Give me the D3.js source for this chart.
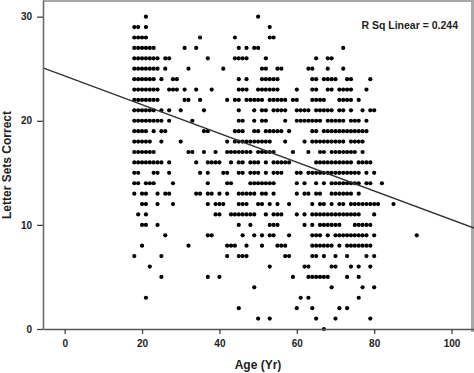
<!DOCTYPE html>
<html>
<head>
<meta charset="utf-8">
<script src="https://cdn.jsdelivr.net/npm/d3@7"></script>
<style>
  body { margin: 0; background: #fff; }
  svg { display: block; font-family: "Liberation Sans", Arial, sans-serif; }
</style>
</head>
<body>
<svg width="474" height="373"></svg>
<script>
// scores (y) and, for each score, the ages (x) that have a dot
var scores = [30, 29, 28, 27, 26, 25, 24, 23, 22, 21, 20, 19, 18, 17, 16, 15, 14, 13, 12, 11, 10, 9, 8, 7, 6, 5, 4, 3, 2, 1, 0];
var agesAtScore = [
  [21, 50],
  [18, 19, 21, 53],
  [18, 19, 20, 21, 35, 44, 53, 54],
  [18, 19, 20, 21, 22, 23, 31, 34, 45, 47, 49, 50, 72],
  [18, 19, 20, 21, 22, 23, 24, 26, 27, 37, 44, 45, 46, 47, 52, 65, 68, 69],
  [18, 19, 20, 21, 22, 23, 24, 26, 32, 41, 51, 52, 55, 56, 63, 64, 68, 72],
  [18, 19, 20, 21, 22, 23, 25, 28, 29, 45, 47, 51, 52, 53, 54, 55, 64, 65, 67, 68, 69, 70, 73, 74, 79],
  [18, 19, 20, 21, 22, 23, 24, 27, 28, 29, 31, 34, 38, 45, 46, 47, 50, 51, 52, 53, 54, 55, 60, 64, 65, 68, 69, 71, 72, 73, 74, 78],
  [18, 19, 20, 21, 22, 23, 24, 31, 32, 35, 42, 44, 45, 47, 48, 49, 50, 51, 53, 54, 55, 56, 57, 59, 60, 64, 65, 66, 67, 71, 72, 73, 74, 76],
  [18, 19, 20, 21, 22, 23, 25, 27, 30, 36, 45, 49, 51, 52, 54, 55, 56, 57, 60, 61, 62, 63, 65, 66, 67, 68, 69, 71, 72, 74, 77, 79, 80],
  [18, 19, 20, 21, 22, 23, 24, 25, 27, 33, 45, 46, 49, 51, 52, 57, 60, 61, 62, 63, 64, 65, 66, 68, 69, 70, 71, 72, 74, 75, 76, 78],
  [18, 19, 20, 21, 23, 25, 26, 36, 37, 44, 45, 46, 49, 50, 52, 53, 54, 55, 56, 58, 64, 65, 67, 68, 69, 70, 71, 72, 73, 74, 75, 76, 77, 78],
  [18, 19, 20, 21, 22, 25, 30, 42, 44, 45, 46, 47, 48, 49, 50, 51, 52, 53, 57, 62, 64, 65, 66, 67, 68, 69, 70, 71, 72, 74, 75, 76, 77],
  [18, 19, 20, 21, 22, 23, 32, 33, 36, 39, 42, 43, 44, 45, 46, 47, 48, 50, 51, 52, 53, 54, 59, 63, 66, 67, 69, 70, 71, 72, 73, 74, 75, 77],
  [18, 19, 20, 21, 22, 23, 24, 25, 27, 34, 37, 38, 39, 40, 43, 45, 46, 48, 49, 50, 52, 54, 55, 56, 57, 58, 65, 66, 67, 68, 69, 70, 71, 72, 73, 74, 76, 77, 78, 79],
  [18, 19, 23, 24, 27, 35, 37, 41, 42, 45, 46, 48, 49, 50, 52, 54, 55, 56, 60, 61, 63, 64, 65, 66, 67, 68, 69, 70, 71, 72, 73, 74, 75, 76, 78, 80],
  [18, 19, 21, 22, 23, 28, 37, 42, 43, 48, 49, 50, 51, 52, 53, 54, 60, 62, 65, 67, 69, 70, 71, 72, 73, 74, 75, 76, 78, 79, 82],
  [18, 20, 21, 24, 26, 27, 34, 35, 37, 38, 40, 42, 45, 46, 47, 48, 49, 51, 52, 54, 60, 62, 63, 65, 66, 69, 70, 71, 72, 73, 74, 76],
  [20, 21, 24, 28, 37, 39, 40, 41, 45, 46, 47, 50, 51, 53, 55, 58, 64, 66, 67, 69, 71, 72, 74, 75, 76, 77, 78, 79, 80, 81, 85],
  [19, 21, 39, 40, 43, 44, 45, 46, 47, 48, 49, 52, 54, 55, 56, 60, 62, 64, 65, 66, 67, 68, 69, 70, 71, 72, 73, 74, 75, 76, 80],
  [20, 21, 24, 45, 48, 53, 54, 55, 62, 64, 66, 67, 68, 69, 70, 71, 75, 76, 77, 78, 79],
  [26, 37, 38, 46, 49, 51, 53, 54, 58, 64, 65, 66, 68, 70, 71, 72, 73, 74, 75, 76, 77, 78, 80, 91],
  [20, 32, 42, 43, 44, 47, 51, 55, 56, 57, 64, 65, 66, 67, 68, 69, 71, 73, 74, 75, 76, 77, 78, 79],
  [18, 25, 42, 45, 46, 47, 57, 58, 64, 65, 67, 70, 73, 78, 80],
  [22, 53, 62, 63, 69, 70, 74, 76, 79],
  [25, 37, 40, 59, 63, 64, 65, 66, 67, 68, 73, 76],
  [49, 69, 77, 80],
  [21, 61, 63, 76],
  [45, 60, 64, 71, 73],
  [50, 53, 65, 70, 79],
  [67]
];

var xTicks = [0, 20, 40, 60, 80, 100];
var yTicks = [0, 10, 20, 30];

// linear fit
var fitIntercept = 24.3;
var fitSlope = -0.138;
var rSquared = 0.244;

var svg = d3.select('svg');

// plot area edges (px)
var plotL = 43, plotR = 474, plotT = 0, plotB = 329;

var x = d3.scaleLinear().domain([-5.6, 105.8]).range([plotL, plotR]);
var y = d3.scaleLinear().domain([0, 31.6]).range([plotB, plotT]);

// flatten into points
var points = [];
scores.forEach(function (s, i) {
  agesAtScore[i].forEach(function (a) {
    points.push({ age: a, score: s });
  });
});

// frame (top + right)
svg.append('line')
    .attr('x1', plotL).attr('y1', 1)
    .attr('x2', plotR).attr('y2', 1)
    .style('stroke', '#a8a8a8')
    .style('stroke-width', 2)

svg.append('line')
    .attr('x1', 472.5).attr('y1', 0)
    .attr('x2', 472.5).attr('y2', plotB + 3)
    .style('stroke', '#a8a8a8')
    .style('stroke-width', 3)

// points
svg.append('g')
  .selectAll('circle')
  .data(points)
  .enter()
  .append('circle')
    .attr('cx', function (d) { return x(d.age); })
    .attr('cy', function (d) { return y(d.score); })
    .attr('r', 2.1)
    .style('fill', 'black')

// fit line
var xd = x.domain();
svg.append('line')
    .attr('x1', x(xd[0]))
    .attr('y1', y(fitIntercept + fitSlope * xd[0]))
    .attr('x2', x(xd[1]))
    .attr('y2', y(fitIntercept + fitSlope * xd[1]))
    .style('stroke', '#333')
    .style('stroke-width', 1.4)

// axes
var xAxis = svg.append('g')
    .attr('transform', 'translate(0,' + plotB + ')')
    .call(d3.axisBottom(x).tickValues(xTicks).tickSize(5).tickSizeOuter(0).tickPadding(6))

var yAxis = svg.append('g')
    .attr('transform', 'translate(' + plotL + ',0)')
    .call(d3.axisLeft(y).tickValues(yTicks).tickSize(6).tickSizeOuter(0).tickPadding(5))

xAxis.select('.domain').style('stroke', '#555').style('stroke-width', 1.5)
yAxis.select('.domain').style('stroke', '#666').style('stroke-width', 1.5)
svg.selectAll('.tick line').style('stroke', '#444').style('stroke-width', 1.3)
svg.selectAll('.tick text')
    .style('font-size', '10px')
    .style('font-weight', 'bold')
    .style('font-family', '"Liberation Sans", Arial, sans-serif')
    .style('fill', '#222')

// titles
svg.append('text')
    .text('Age (Yr)')
    .attr('x', 258)
    .attr('y', 369)
    .attr('text-anchor', 'middle')
    .style('font-size', '12px')
    .style('font-weight', 'bold')
    .style('fill', '#222')

svg.append('text')
    .text('Letter Sets Correct')
    .attr('transform', 'translate(11,165) rotate(-90)')
    .attr('text-anchor', 'middle')
    .style('font-size', '12px')
    .style('font-weight', 'bold')
    .style('fill', '#222')

svg.append('text')
    .text('R Sq Linear = ' + rSquared)
    .attr('x', 458)
    .attr('y', 29)
    .attr('text-anchor', 'end')
    .style('font-size', '10.5px')
    .style('font-weight', 'bold')
    .style('fill', '#222')
</script>
</body>
</html>
